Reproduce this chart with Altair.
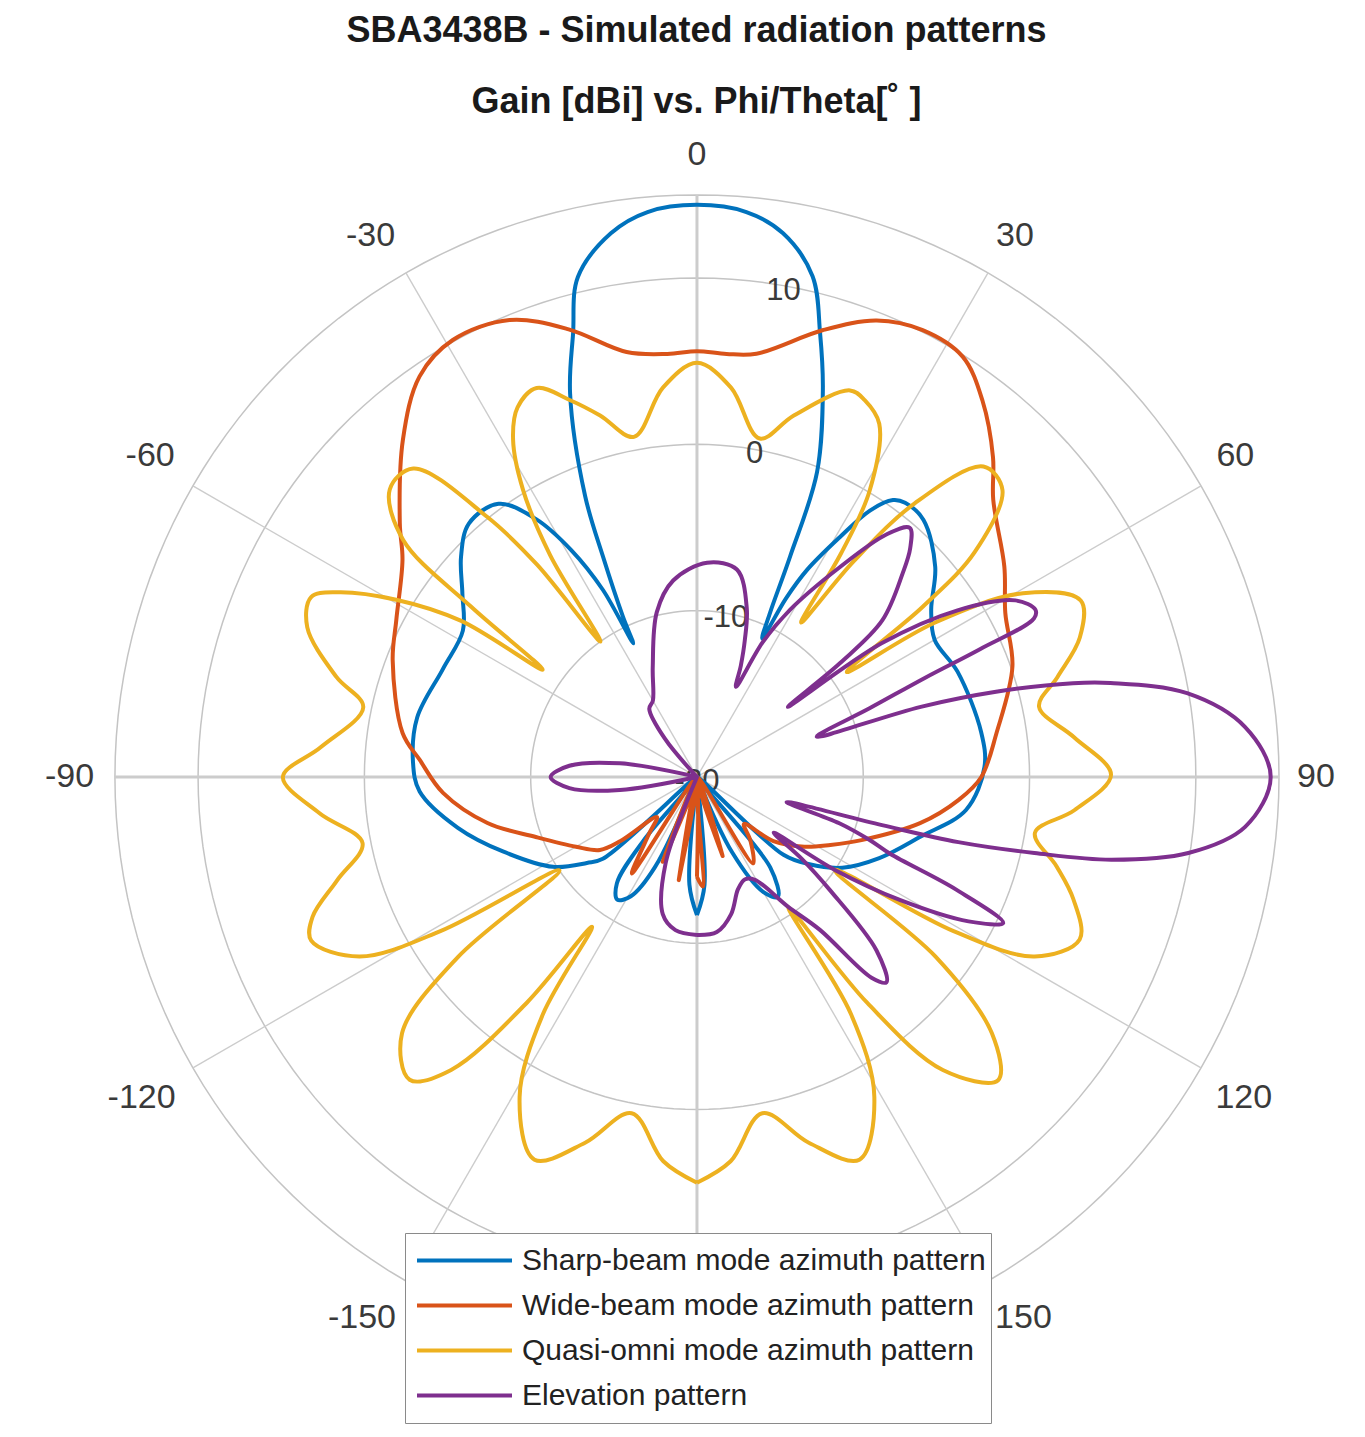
import altair as alt
import numpy as np
import pandas as pd

# ---------------- data ----------------
SERIES = [
    "Sharp-beam mode azimuth pattern",
    "Wide-beam mode azimuth pattern",
    "Quasi-omni mode azimuth pattern",
    "Elevation pattern",
]
COLORS = ["#0072BD", "#D95319", "#EDB120", "#7E2F8E"]

SHARP_THETA = [-180, -176, -172, -160, -155, -151, -147, -143, -140, -136,
               -131, -128, -122, -111, -102, -93, -87, -78, -67, -58,
               -52, -47, -42, -36, -32, -29, -26.7, -25.5, -24.8, -23.1,
               -21.7, -18.3, -15.6, -13.4, -9, -5, 0, 5, 9, 13,
               15.5, 18, 21.5, 22.9, 24, 25.2, 26.5, 28, 30.8, 33,
               35.3, 37.2, 41.4, 48.6, 54.5, 60, 68, 81, 88, 97,
               105, 114, 122, 128, 132, 136, 141, 146, 150, 155,
               160, 172, 176, 180]
SHARP_GAIN = [-11.7, -13.5, -30, -30, -14, -11.8, -11.2, -12, -15, -30,
              -12.5, -11.6, -9.8, -7.5, -5.3, -3.3, -2.9, -2.8, -3.4, -3.4,
              -2.1, -0.6, 0.5, 0.3, -1.7, -4.4, -7.4, -11.1, -9.4, -5.6,
              -1.8, 4.3, 7.7, 10.9, 13.1, 14.1, 14.4, 14.1, 13.1, 10.9,
              7.7, 4.5, -0.3, -5.6, -9.2, -10.8, -8.0, -5.9, -3.2, -0.9,
              0.4, 0.7, 0.6, -0.9, -2.7, -3.5, -3.1, -2.7, -2.7, -3.7,
              -6.1, -8.0, -9.7, -11.5, -13, -30, -13, -11.3, -12, -15,
              -30, -30, -13.5, -11.7]

WIDE_THETA = [-180, -175, -170, -165, -158, -152, -146, -140, -135, -130,
              -127, -120, -110.6, -102.4, -93.6, -86.5, -81.5, -69, -62.4, -53.6,
              -49.5, -41.1, -34.7, -29.2, -22.3, -16, -9.4, -4, 0, 4,
              8, 15.7, 21.5, 26.8, 32.3, 37.2, 42.8, 46.9, 55.6, 62,
              70.7, 81.7, 90, 95, 101.7, 111, 117, 123, 130, 135,
              140, 147, 153, 162, 169, 177, 180]
WIDE_GAIN = [-14, -30, -13.7, -30, -14.5, -30, -13, -15.5, -16.6, -14,
             -12.7, -11.6, -9.7, -7.1, -4.7, -3.3, -2.1, -0.4, 0.4, 2.0,
             3.5, 6.9, 9.3, 10.1, 9.7, 8.0, 5.9, 5.5, 5.6, 5.5,
             5.7, 7.9, 9.5, 10.1, 9.9, 8.4, 6.2, 4.4, 2.4, 1.0,
             0.1, -1.8, -2.9, -4.2, -6.3, -9.4, -11, -12.3, -14, -16,
             -15, -13.8, -30, -15, -30, -13.4, -14]

QUASI_THETA = [-180, -175, -169, -163, -157, -151, -147, -145, -143, -140,
               -136.5, -131, -127, -124.2, -121, -118, -113, -110, -106, -101.2,
               -95.5, -90, -85.5, -78.2, -74.5, -69, -65, -62.8, -59.5, -56.5,
               -55.2, -53, -51.1, -46.9, -42.6, -38.9, -37, -35.5, -33.5, -31.2,
               -28.6, -25.9, -22.4, -18.6, -15, -10.5, -5, 0, 5, 10.5,
               15, 21.6, 24, 27.3, 31.1, 32.8, 34, 36, 38.5, 42.7,
               46.8, 51, 53, 55, 57, 60.6, 65.3, 70, 74.5, 78.4,
               84, 89.7, 95, 99.4, 104, 108, 113, 118, 121, 124,
               127, 131, 135.2, 140, 143, 145, 147, 151, 157, 163,
               169, 175, 180]
QUASI_GAIN = [4.4, 3.2, 0.6, 3.0, 5.0, 2.0, -3, -9, -3, 3,
              5.1, 3.5, -2, -10, -2, 3, 5.2, 4.6, 2.5, 0.5,
              2.8, 4.9, 2.7, 0.5, 2.5, 5.1, 5.6, 4.3, 1, -3,
              -8.7, -3, 2.7, 5.3, 5.2, 0.1, -4, -10, -4, 0.2,
              3.1, 4.7, 5.3, 3.9, 2.5, 0.8, 3.5, 4.9, 3.5, 0.7,
              2.5, 5.0, 4.8, 3.9, 0.1, -4, -8.8, -4, 1, 5.4,
              5.2, 1.5, -3, -9, -3, 2.5, 5.4, 4.5, 2.5, 1.0,
              2.8, 4.9, 2.8, 0.6, 2.3, 3.8, 5.0, 3, -2, -10,
              -2, 3.5, 5.7, 3, -3, -10.4, -3, 2, 5.0, 3.0,
              0.6, 3.2, 4.4]

ELEV_THETA = [-180, -172, -166, -160, -156, -130, -105, -99.6, -95, -90,
              -85, -80, -75, -45, -40, -35, -30, -22, -13.7, -6.9,
              2.7, 10.9, 16.4, 19.3, 21.5, 23.4, 26, 29.1, 34.3, 38,
              40.5, 43, 45.3, 49.8, 51.5, 52.4, 54.1, 57.4, 61, 63.7,
              64.8, 65.7, 66.5, 68.3, 71.4, 72.6, 74.1, 76, 77.2, 80.3,
              84.8, 90, 95.2, 98.8, 101.3, 102.7, 104, 104.6, 105.7, 108,
              110, 111.7, 113.5, 115.5, 118, 121.2, 124, 126, 128, 130.4,
              134, 137.3, 139, 141.2, 145, 150.6, 155, 160, 166, 172.7,
              180]
ELEV_GAIN = [-10.5, -10.7, -11.5, -14.5, -30, -30, -30, -15.3, -12.3, -11.2,
             -12.3, -15.3, -30, -30, -17, -15, -14.7, -12.9, -9.8, -8.1,
             -7.1, -7.3, -9.4, -11.3, -12.8, -14.1, -11, -8.5, -4.7, -1.5,
             -0.3, -1.2, -2.6, -5.4, -9, -13.1, -6.3, -1.4, 1.9, 2.7,
             2.4, -1.3, -5, -8.8, -12.4, -5.9, -1.3, 3.3, 5.5, 9.9,
             13.1, 14.5, 13.1, 9.9, 5.4, 0.8, -3.8, -8.5, -14.4, -11,
             -9, -7.5, -3, 0.4, -1.5, -5.7, -10, -14.3, -12, -9.5,
             -5, -3.2, -4, -8.2, -10.5, -12.9, -13.2, -12.8, -11.5, -10.6,
             -10.5]

R_MIN = -20
R_MAX = 15
RING_VALUES = [-10, 0, 10, 15]
RADIAL_LABELS = [-20, -10, 0, 10]
SPOKE_ANGLES = [0, 30, 60, 90, 120, 150, 180, 210, 240, 270, 300, 330]
ANGLE_LABELS = [0, 30, 60, 90, 120, 150, -150, -120, -90, -60, -30]

TITLE = "SBA3438B - Simulated radiation patterns"
SUBTITLE = "Gain [dBi] vs. Phi/Theta[\u02da ]"

# ---------------- layout / style ----------------
FONT = "Liberation Sans, Arial, Helvetica, sans-serif"
W, H = 1349, 1281
PX_PER_UNIT = 16.63
X_DOMAIN = [-41.43, 39.69]
Y_DOMAIN = [-39.21, 37.82]
RAD_LABEL_ANGLE = 10
ANGLE_FONT = 34
ANGLE_LABEL_ANCHOR = 602 / PX_PER_UNIT   # radius where theta labels are anchored
HALF_CHAR = 8.5 / PX_PER_UNIT            # half width of one glyph, in units
HALF_HEIGHT = 20 / PX_PER_UNIT           # half text height, in units

xs = alt.Scale(domain=X_DOMAIN, nice=False, zero=False)
ys = alt.Scale(domain=Y_DOMAIN, nice=False, zero=False)

# ---------------- tables ----------------
thetas = [SHARP_THETA, WIDE_THETA, QUASI_THETA, ELEV_THETA]
gains = [SHARP_GAIN, WIDE_GAIN, QUASI_GAIN, ELEV_GAIN]
curves = pd.concat(
    [pd.DataFrame({"series": s, "theta": t, "gain": g, "idx": np.arange(len(t))})
     for s, t, g in zip(SERIES, thetas, gains)],
    ignore_index=True,
)

ring_ang = np.arange(0, 361, 2)
rings = pd.DataFrame(
    [{"ring": r, "ang": a} for r in RING_VALUES for a in ring_ang]
)
spokes = pd.DataFrame({"ang": SPOKE_ANGLES})
spokes["w"] = [3.0 if a % 90 == 0 else 1.4 for a in SPOKE_ANGLES]
alabels = pd.DataFrame({"ang": ANGLE_LABELS, "txt": [str(a) for a in ANGLE_LABELS]})
rlabels = pd.DataFrame({"val": RADIAL_LABELS, "txt": [str(v) for v in RADIAL_LABELS]})

# ---------------- layers ----------------
ring_layer = alt.Chart(rings).transform_calculate(
    rr=f"datum.ring - ({R_MIN})"
).transform_calculate(
    px="datum.rr * sin(datum.ang * PI / 180)",
    py="datum.rr * cos(datum.ang * PI / 180)",
).mark_line(color="#c4c4c4", strokeWidth=1.5).encode(
    x=alt.X("px:Q", scale=xs, axis=None),
    y=alt.Y("py:Q", scale=ys, axis=None),
    detail="ring:N",
    order="ang:Q",
)

spoke_layer = alt.Chart(spokes).transform_calculate(
    x0="0", y0="0",
    x1=f"{R_MAX - R_MIN} * sin(datum.ang * PI / 180)",
    y1=f"{R_MAX - R_MIN} * cos(datum.ang * PI / 180)",
).mark_rule(color="#cccccc").encode(
    x=alt.X("x0:Q", scale=xs, axis=None),
    y=alt.Y("y0:Q", scale=ys, axis=None),
    x2="x1:Q",
    y2="y1:Q",
    strokeWidth=alt.StrokeWidth("w:Q", scale=None),
)

# theta labels: anchored just outside the outer ring and pushed outward
alabel_layer = alt.Chart(alabels).transform_calculate(
    s="sin(datum.ang * PI / 180)",
    c="cos(datum.ang * PI / 180)",
).transform_calculate(
    sx="datum.s > 0.01 ? 1 : (datum.s < -0.01 ? -1 : 0)",
    sy="datum.c > 0.01 ? 1 : (datum.c < -0.01 ? -1 : 0)",
).transform_calculate(
    lx=f"{ANGLE_LABEL_ANCHOR} * datum.s + datum.sx * length(datum.txt) * {HALF_CHAR}",
    ly=f"{ANGLE_LABEL_ANCHOR} * datum.c + datum.sy * {HALF_HEIGHT}",
).mark_text(font=FONT, fontSize=ANGLE_FONT, color="#3a3a3a", align="center", baseline="middle").encode(
    x=alt.X("lx:Q", scale=xs, axis=None),
    y=alt.Y("ly:Q", scale=ys, axis=None),
    text="txt:N",
)

rlabel_layer = alt.Chart(rlabels).transform_calculate(
    lx=f"(datum.val - ({R_MIN})) * sin({RAD_LABEL_ANGLE} * PI / 180)",
    ly=f"(datum.val - ({R_MIN})) * cos({RAD_LABEL_ANGLE} * PI / 180)",
).mark_text(font=FONT, fontSize=31, color="#3a3a3a", align="center", baseline="middle", dy=5).encode(
    x=alt.X("lx:Q", scale=xs, axis=None),
    y=alt.Y("ly:Q", scale=ys, axis=None),
    text="txt:N",
)

curve_layer = alt.Chart(curves).transform_calculate(
    rr=f"max(datum.gain - ({R_MIN}), 0)"
).transform_calculate(
    px="datum.rr * sin(datum.theta * PI / 180)",
    py="datum.rr * cos(datum.theta * PI / 180)",
).mark_line(strokeWidth=4, interpolate="catmull-rom", strokeJoin="round").encode(
    x=alt.X("px:Q", scale=xs, axis=None),
    y=alt.Y("py:Q", scale=ys, axis=None),
    color=alt.Color(
        "series:N",
        scale=alt.Scale(domain=SERIES, range=COLORS),
        legend=alt.Legend(
            title=None,
            orient="none",
            legendX=397,
            legendY=1085,
            symbolType="stroke",
            symbolSize=9025,
            symbolStrokeWidth=4,
            symbolOffset=5,
            clipHeight=45,
            labelFont=FONT,
            labelFontSize=30,
            labelColor="#222222",
            labelOffset=8,
            labelLimit=0,
            fillColor="white",
            strokeColor="#8a8a8a",
            padding=5,
            rowPadding=0,
        ),
    ),
    order="idx:Q",
)

chart = alt.layer(
    ring_layer, spoke_layer, rlabel_layer, alabel_layer, curve_layer
).properties(
    width=W,
    height=H,
    autosize=alt.AutoSizeParams(type="none"),
    padding={"left": 0, "top": 140, "right": 0, "bottom": 0},
    title=alt.TitleParams(
        text=TITLE,
        subtitle=SUBTITLE,
        font=FONT,
        subtitleFont=FONT,
        fontSize=36,
        subtitleFontSize=36,
        fontWeight="bold",
        subtitleFontWeight="bold",
        color="#1a1a1a",
        subtitleColor="#1a1a1a",
        anchor="middle",
        frame="group",
        dx=14,
        offset=17,
        subtitlePadding=35,
    ),
).configure_view(stroke=None)

chart.save("out.html", embed_options={"renderer": "svg", "actions": False})
